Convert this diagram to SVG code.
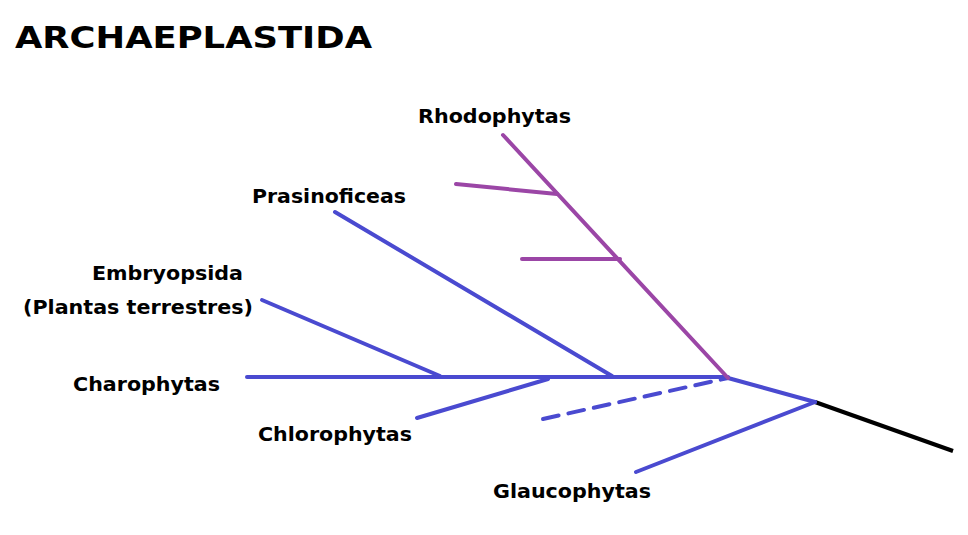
<svg xmlns="http://www.w3.org/2000/svg" width="968" height="535" viewBox="0 0 968 535">
<style>
.t{font-family:"DejaVu Sans",Verdana,sans-serif;font-weight:bold;font-size:19px;fill:#000}
.b{stroke:#4a4ad0;stroke-width:4;fill:none;stroke-linecap:round}
.p{stroke:#9b46a6;stroke-width:4;fill:none;stroke-linecap:round}
</style>
<rect width="968" height="535" fill="#fff"/>
<g id="title"><text x="15" y="48" class="t" style="font-size:31px" textLength="357" lengthAdjust="spacingAndGlyphs">ARCHAEPLASTIDA</text></g>
<g id="connectors">
<line x1="815" y1="402" x2="953" y2="451" stroke="#000" stroke-width="4"/>
<line class="b" x1="815" y1="402" x2="728" y2="378"/>
<line class="b" x1="815" y1="402" x2="636" y2="472"/>
<line class="b" x1="247" y1="377" x2="728" y2="377"/>
<line class="b" x1="262" y1="300" x2="440" y2="376"/>
<line class="b" x1="335" y1="212" x2="612" y2="376"/>
<line class="b" x1="417" y1="418" x2="548" y2="379"/>
<line class="b" x1="543" y1="419" x2="728" y2="378" stroke-dasharray="16,10" stroke-linecap="butt"/>
<line class="p" x1="503" y1="135" x2="728" y2="378"/>
<line class="p" x1="456" y1="184" x2="557" y2="194"/>
<line class="p" x1="522" y1="259" x2="620" y2="259"/>
</g>
<g id="rhodophytas"><text class="t" x="418" y="123" textLength="153" lengthAdjust="spacingAndGlyphs">Rhodophytas</text></g>
<g id="prasinoficeas"><text class="t" x="252" y="203" textLength="154" lengthAdjust="spacingAndGlyphs">Prasinoficeas</text></g>
<g id="embryopsida"><text class="t" x="92" y="280" textLength="151" lengthAdjust="spacingAndGlyphs">Embryopsida</text>
<text class="t" x="23" y="314" textLength="230" lengthAdjust="spacingAndGlyphs">(Plantas terrestres)</text></g>
<g id="charophytas"><text class="t" x="73" y="391" textLength="147" lengthAdjust="spacingAndGlyphs">Charophytas</text></g>
<g id="chlorophytas"><text class="t" x="258" y="441" textLength="154" lengthAdjust="spacingAndGlyphs">Chlorophytas</text></g>
<g id="glaucophytas"><text class="t" x="493" y="498" textLength="158" lengthAdjust="spacingAndGlyphs">Glaucophytas</text></g>
</svg>
